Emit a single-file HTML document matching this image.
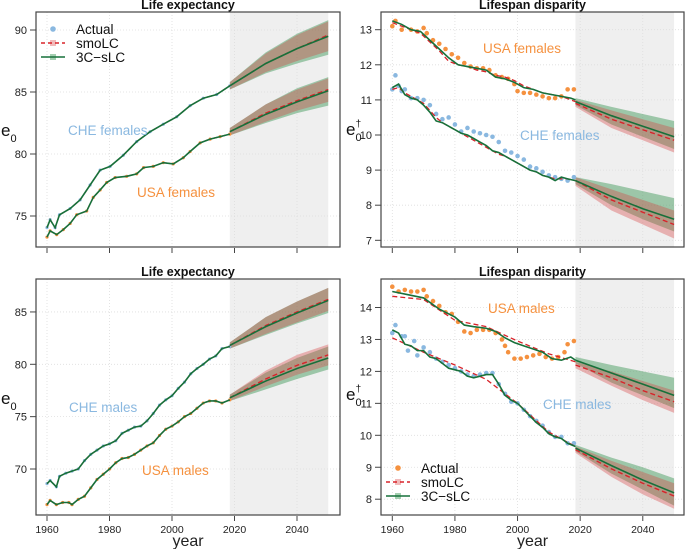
<!DOCTYPE html>
<html><head><meta charset="utf-8"><style>
body{margin:0;background:#fff;}
svg{display:block;font-family:"Liberation Sans",Arial,sans-serif;}
</style></head><body>
<svg id="chart" width="685" height="549" viewBox="0 0 685 549" xmlns="http://www.w3.org/2000/svg"></svg>
<script>
// ---------- DATA ----------
const fYears = [2018.5, 2030, 2040, 2050];

// Top-left: life expectancy females
const tlCheYears = [1960,1961,1962.6,1964,1967.4,1970.6,1973.8,1977,1980.2,1984.4,1988.7,1993,1997.2,2001.5,2005.8,2010,2014.3,2018.5];
const tlCheVals  = [74.06,74.7,74.06,75.1,75.6,76.3,77.5,78.7,79.0,79.9,81.0,81.8,82.4,83.0,83.9,84.5,84.8,85.5];
const tlUsaYears = [1960,1961,1963.1,1965.2,1967.4,1969.5,1972.7,1974.8,1977,1979.1,1981.8,1985.5,1988.7,1990.9,1994,1997.2,2000.4,2003.6,2005.8,2009,2012.2,2015.4,2018.5];
const tlUsaVals  = [73.3,73.8,73.5,73.9,74.4,75.1,75.4,76.5,77.1,77.7,78.1,78.2,78.4,78.9,79.0,79.3,79.2,79.7,80.2,80.9,81.2,81.4,81.6];
const tlCheG = [85.5,87.3,88.5,89.5], tlCheGhi=[85.8,88.2,89.7,90.8], tlCheGlo=[85.2,86.5,87.3,88.0];
const tlCheR = [85.5,87.3,88.5,89.6], tlCheRhi=[85.8,88.1,89.6,90.7], tlCheRlo=[85.2,86.6,87.5,88.3];
const tlUsaG = [81.8,83.2,84.2,85.1], tlUsaGhi=[82.1,84.0,85.3,86.2], tlUsaGlo=[81.5,82.5,83.3,83.9];
const tlUsaR = [81.8,83.3,84.3,85.2], tlUsaRhi=[82.1,84.0,85.2,86.1], tlUsaRlo=[81.5,82.6,83.5,84.2];

// Top-right: lifespan disparity females
const trUsaActYears = [1960,1961,1963,1966,1968,1970,1971,1973,1975,1977,1979,1981,1983,1985,1987,1989,1991,1993,1995,1997,1999,2000,2002,2004,2006,2008,2010,2012,2014,2016,2018];
const trUsaActVals  = [13.1,13.25,13.0,13.0,12.95,13.05,12.9,12.7,12.6,12.45,12.3,12.2,12.05,11.95,11.9,11.9,11.85,11.7,11.65,11.6,11.45,11.25,11.2,11.2,11.15,11.1,11.05,11.05,11.1,11.3,11.3];
const trUsaLineYears = [1960,1963,1966,1969,1972,1975,1978,1981,1984,1987,1990,1993,1996,1999,2002,2005,2008,2011,2014,2017,2018.5];
const trUsaLineVals  = [13.25,13.15,13.0,12.95,12.7,12.45,12.2,12.0,11.95,11.9,11.85,11.65,11.6,11.5,11.35,11.3,11.2,11.15,11.1,11.05,11.0];
const trUsaSmoVals   = [13.2,13.1,13.0,12.9,12.65,12.4,12.1,12.0,11.95,11.85,11.8,11.7,11.65,11.55,11.4,11.3,11.2,11.15,11.1,11.0,10.95];
const trCheActYears = [1960,1961,1962,1963,1964,1966,1968,1970,1972,1974,1976,1978,1980,1982,1984,1986,1988,1990,1992,1994,1996,1998,2000,2002,2004,2006,2008,2010,2012,2014,2016,2018];
const trCheActVals  = [11.3,11.7,11.4,11.25,11.3,11.05,11.05,11.0,10.85,10.6,10.45,10.5,10.3,10.1,10.2,10.1,10.05,10.0,9.95,9.8,9.55,9.5,9.4,9.3,9.1,9.05,8.95,8.85,8.8,8.75,8.7,8.8];
const trCheLineYears = [1960,1962,1964,1966,1968,1970,1972,1974,1976,1978,1980,1982,1984,1986,1988,1990,1992,1994,1996,1998,2000,2002,2004,2006,2008,2010,2012,2014,2016,2018.5];
const trCheLineVals  = [11.35,11.45,11.15,11.05,11.0,10.85,10.65,10.4,10.35,10.25,10.15,10.05,10.0,9.9,9.8,9.7,9.55,9.5,9.4,9.3,9.2,9.1,9.0,8.95,8.85,8.8,8.7,8.8,8.75,8.7];
const trCheSmoVals   = [11.3,11.35,11.2,11.1,11.0,10.9,10.7,10.5,10.35,10.25,10.15,10.05,9.95,9.85,9.75,9.65,9.55,9.45,9.4,9.3,9.2,9.1,9.0,8.95,8.85,8.8,8.75,8.75,8.75,8.7];
const trUsaG=[10.95,10.55,10.25,9.95], trUsaGhi=[11.05,10.8,10.6,10.4], trUsaGlo=[10.85,10.3,9.95,9.6];
const trUsaR=[10.9,10.45,10.15,9.85],  trUsaRhi=[11.0,10.7,10.45,10.2],  trUsaRlo=[10.8,10.2,9.85,9.5];
const trCheG=[8.7,8.25,7.9,7.6], trCheGhi=[8.8,8.6,8.4,8.2], trCheGlo=[8.6,8.0,7.6,7.25];
const trCheR=[8.7,8.15,7.8,7.45], trCheRhi=[8.8,8.45,8.15,7.85], trCheRlo=[8.55,7.85,7.45,7.05];

// Bottom-left: life expectancy males
const blCheYears = [1960,1961,1963,1964,1966,1968,1970,1972,1974,1976,1978,1980,1982,1984,1986,1988,1990,1992,1994,1996,1998,2000,2002,2004,2006,2008,2010,2012,2014,2016,2018.5];
const blCheVals  = [68.6,68.9,68.3,69.3,69.6,69.8,70.0,70.8,71.4,71.8,72.2,72.4,72.7,73.4,73.7,74.0,74.1,74.6,75.3,76.1,76.6,77.0,77.7,78.3,79.1,79.6,80.0,80.5,80.8,81.5,81.7];
const blUsaYears = [1960,1961,1963,1965,1967,1968,1970,1972,1974,1976,1978,1980,1982,1984,1986,1988,1990,1992,1994,1996,1998,2000,2002,2004,2006,2008,2010,2012,2014,2016,2018.5];
const blUsaVals  = [66.6,67.0,66.6,66.8,66.8,66.6,67.1,67.4,68.2,69.0,69.5,70.0,70.6,71.0,71.1,71.4,71.8,72.2,72.5,73.2,73.8,74.1,74.5,75.0,75.3,75.8,76.3,76.5,76.5,76.3,76.6];
const blCheG=[81.8,83.6,84.9,86.1], blCheGhi=[82.1,84.5,86.0,87.3], blCheGlo=[81.5,82.8,83.9,84.9];
const blCheR=[81.8,83.7,85.0,86.2], blCheRhi=[82.1,84.5,86.0,87.3], blCheRlo=[81.5,82.9,84.0,85.1];
const blUsaG=[76.8,78.4,79.6,80.6], blUsaGhi=[77.1,79.2,80.6,81.7], blUsaGlo=[76.5,77.6,78.6,79.5];
const blUsaR=[76.8,78.6,79.9,80.9], blUsaRhi=[77.1,79.4,80.9,81.9], blUsaRlo=[76.5,77.9,79.0,79.9];

// Bottom-right: lifespan disparity males
const brUsaActYears = [1960,1962,1964,1966,1968,1970,1971,1973,1975,1977,1979,1981,1983,1985,1987,1989,1991,1993,1995,1996,1997,1999,2001,2003,2005,2007,2009,2011,2013,2015,2016,2018];
const brUsaActVals  = [14.65,14.5,14.55,14.5,14.5,14.55,14.35,14.2,14.05,13.85,13.8,13.55,13.25,13.2,13.3,13.3,13.3,13.2,13.0,12.8,12.6,12.4,12.4,12.45,12.5,12.55,12.45,12.4,12.45,12.6,12.85,12.95];
const brUsaLineYears = [1960,1965,1970,1975,1980,1983,1986,1990,1993,1996,1999,2002,2005,2008,2011,2014,2017,2018.5];
const brUsaLineVals  = [14.5,14.4,14.3,13.95,13.7,13.45,13.4,13.35,13.25,13.05,12.9,12.8,12.7,12.6,12.4,12.35,12.45,12.35];
const brUsaSmoYears = [1960,1970,1980,1990,2000,2010,2018.5];
const brUsaSmoVals  = [14.35,14.25,13.6,13.4,12.95,12.55,12.3];
const brCheActYears = [1960,1961,1963,1964,1965,1967,1968,1970,1972,1974,1976,1978,1980,1982,1984,1986,1988,1990,1992,1994,1996,1998,2000,2002,2004,2006,2008,2010,2012,2014,2016,2018];
const brCheActVals  = [13.2,13.45,13.1,13.1,12.65,12.95,12.5,12.75,12.6,12.4,12.3,12.2,12.1,12.0,11.9,11.85,11.9,11.95,11.95,11.6,11.3,11.05,11.0,10.8,10.6,10.45,10.3,10.1,9.95,9.95,9.75,9.75];
const brCheLineYears = [1960,1962,1964,1966,1968,1970,1972,1974,1976,1978,1980,1982,1984,1986,1988,1990,1992,1994,1996,1998,2000,2002,2004,2006,2008,2010,2012,2014,2016,2018.5];
const brCheLineVals  = [13.3,13.2,12.85,12.8,12.65,12.65,12.45,12.4,12.25,12.1,12.05,12.0,11.85,11.8,11.85,11.9,11.9,11.6,11.25,11.1,11.0,10.8,10.6,10.4,10.25,10.05,9.95,9.9,9.75,9.65];
const brCheSmoYears = [1960,1970,1980,1990,2000,2010,2018.5];
const brCheSmoVals  = [13.05,12.6,12.2,11.75,11.0,10.1,9.65];
const brUsaG=[12.35,11.95,11.6,11.25], brUsaGhi=[12.45,12.2,12.0,11.8], brUsaGlo=[12.25,11.65,11.25,10.85];
const brUsaR=[12.2,11.8,11.4,11.05], brUsaRhi=[12.3,12.0,11.7,11.4], brUsaRlo=[12.1,11.55,11.1,10.7];
const brCheG=[9.6,9.05,8.6,8.2], brCheGhi=[9.7,9.3,9.0,8.65], brCheGlo=[9.5,8.8,8.3,7.8];
const brCheR=[9.55,8.95,8.5,8.1], brCheRhi=[9.65,9.2,8.85,8.5], brCheRlo=[9.45,8.7,8.15,7.7];

const xTickLabels = [1960,1980,2000,2020,2040];
const leTicksTop = [75,80,85,90];
const ldTicksTop = [7,8,9,10,11,12,13];
const leTicksBot = [70,75,80,85];
const ldTicksBot = [8,9,10,11,12,13,14];

// ---------- DRAW ----------
const NS="http://www.w3.org/2000/svg";
const svg=document.getElementById('chart');
function mk(tag,attrs,parent){const e=document.createElementNS(NS,tag);for(const k in attrs)e.setAttribute(k,attrs[k]);(parent||svg).appendChild(e);return e;}
const ORANGE="#f5913f", BLUE="#8ab8e0", GREEN="#17703a", RED="#d8232a";

function panel(p){
  const g=mk('g',{});
  
  
  const X=y=>p.x1960+(y-1960)*p.pxYr;
  const Y=v=>p.yRef-(v-p.vRef)*p.pxU;
  // shade
  const sh=mk('rect',{x:X(2018.5),y:p.y0,width:X(2050)-X(2018.5),height:p.y1-p.y0,fill:'#efefef'},g);
  
  
  // grid
  xTickLabels.forEach(t=>{mk('line',{x1:X(t),x2:X(t),y1:p.y0,y2:p.y1,stroke:'#ddd','stroke-dasharray':'1,2','stroke-width':0.8},g);});
  p.yticks.forEach(t=>{mk('line',{x1:p.x0,x2:p.x1,y1:Y(t),y2:Y(t),stroke:'#ddd','stroke-dasharray':'1,2','stroke-width':0.8},g);});
  // bands
  p.fc.forEach(f=>{
    const band=(hi,lo,col)=>{let d='M';fYears.forEach((y,i)=>{d+=(i?' L':'')+X(y)+','+Y(hi[i]);});for(let i=fYears.length-1;i>=0;i--)d+=' L'+X(fYears[i])+','+Y(lo[i]);d+=' Z';return mk('path',{d:d,fill:col},g);};
    const bg=band(f.ghi,f.glo,'rgba(40,140,70,0.42)');
    
    
    const br=band(f.rhi,f.rlo,'rgba(215,60,60,0.35)');
    
    
  });
  // history
  p.series.forEach(s=>{
    s.ay.forEach((y,i)=>{const c=mk('circle',{cx:X(y),cy:Y(s.av[i]),r:p.dotR,fill:s.col},g);
      
      });
    const pts=(ys,vs)=>ys.map((y,i)=>X(y)+','+Y(vs[i])).join(' ');
    const r=mk('polyline',{points:pts(s.sy,s.sv),fill:'none',stroke:RED,'stroke-width':1.3,'stroke-dasharray':'5,3'},g);
    
    
    const l=mk('polyline',{points:pts(s.ly,s.lv),fill:'none',stroke:GREEN,'stroke-width':1.6},g);
    
    
  });
  p.fc.forEach(f=>{
    const pts=vs=>fYears.map((y,i)=>X(y)+','+Y(vs[i])).join(' ');
    const r=mk('polyline',{points:pts(f.r),fill:'none',stroke:RED,'stroke-width':1.4,'stroke-dasharray':'5,3'},g);
    
    
    const l=mk('polyline',{points:pts(f.g),fill:'none',stroke:GREEN,'stroke-width':1.6},g);
    
    
  });
  // box
  const bx=mk('rect',{x:p.x0,y:p.y0,width:p.x1-p.x0,height:p.y1-p.y0,fill:'none',stroke:'#444','stroke-width':1.2},g);
  
  
  // y ticks
  p.yticks.forEach(t=>{
    mk('line',{x1:p.x0-6,x2:p.x0,y1:Y(t),y2:Y(t),stroke:'#444'},g);
    const tx=mk('text',{x:p.x0-9,y:Y(t)+4,'text-anchor':'end','font-size':11,fill:'#222'},g);tx.textContent=t;
    
    
  });
  // x ticks
  xTickLabels.forEach(t=>{
    mk('line',{x1:X(t),x2:X(t),y1:p.y1+1,y2:p.y1+6,stroke:'#444'},g);
    if(p.bottom){const tx=mk('text',{x:X(t),y:p.y1+18,'text-anchor':'middle','font-size':10.5,fill:'#222'},g);tx.textContent=t;
      
      }
  });
  if(p.bottom){const t=mk('text',{x:(p.x0+p.x1)/2,y:546,'text-anchor':'middle','font-size':16,fill:'#222'},g);t.textContent='year';
    
    }
  const tt=mk('text',{x:(p.x0+p.x1)/2,y:p.y0-3,'text-anchor':'middle','font-size':12.5,'font-weight':'bold',fill:'#111'},g);tt.textContent=p.title;
  
  
  // y label
  const yl=mk('text',{x:p.x0-35,y:p.ylY,'font-size':17,fill:'#111'},g);
  
  
  yl.innerHTML=p.dagger?'e<tspan font-size="11" dy="6">0</tspan><tspan font-size="10" dx="-6" dy="-14">†</tspan>':'e<tspan font-size="11" dy="6">0</tspan>';
  p.labels.forEach(L=>{const t=mk('text',{x:L[0],y:L[1],'font-size':13.5,fill:L[3]},g);t.textContent=L[2];
    
    });
}

panel({name:'panel-le-females',title:'Life expectancy',x0:36,x1:340,y0:12,y1:247,x1960:47,pxYr:3.125,vRef:80,yRef:154,pxU:12.4,yticks:leTicksTop,ylY:136,dotR:1.6,
  series:[{col:BLUE,ay:tlCheYears,av:tlCheVals,ly:tlCheYears,lv:tlCheVals,sy:tlCheYears,sv:tlCheVals},
          {col:ORANGE,ay:tlUsaYears,av:tlUsaVals,ly:tlUsaYears,lv:tlUsaVals,sy:tlUsaYears,sv:tlUsaVals}],
  fc:[{g:tlCheG,ghi:tlCheGhi,glo:tlCheGlo,r:tlCheR,rhi:tlCheRhi,rlo:tlCheRlo},{g:tlUsaG,ghi:tlUsaGhi,glo:tlUsaGlo,r:tlUsaR,rhi:tlUsaRhi,rlo:tlUsaRlo}],
  labels:[[68,135,'CHE females',BLUE],[137,197,'USA females',ORANGE]]});
panel({name:'panel-ld-females',title:'Lifespan disparity',x0:381,x1:684,y0:12,y1:247,x1960:392.3,pxYr:3.131,vRef:10,yRef:135,pxU:35.1,yticks:ldTicksTop,ylY:135,dagger:true,dotR:2.3,
  series:[{col:ORANGE,ay:trUsaActYears,av:trUsaActVals,ly:trUsaLineYears,lv:trUsaLineVals,sy:trUsaLineYears,sv:trUsaSmoVals},
          {col:BLUE,ay:trCheActYears,av:trCheActVals,ly:trCheLineYears,lv:trCheLineVals,sy:trCheLineYears,sv:trCheSmoVals}],
  fc:[{g:trUsaG,ghi:trUsaGhi,glo:trUsaGlo,r:trUsaR,rhi:trUsaRhi,rlo:trUsaRlo},{g:trCheG,ghi:trCheGhi,glo:trCheGlo,r:trCheR,rhi:trCheRhi,rlo:trCheRlo}],
  labels:[[483,53,'USA females',ORANGE],[520,140,'CHE females',BLUE]]});
panel({name:'panel-le-males',title:'Life expectancy',x0:36,x1:340,y0:279,y1:515,x1960:47,pxYr:3.125,vRef:80,yRef:364.3,pxU:10.47,yticks:leTicksBot,ylY:404,bottom:true,dotR:1.6,
  series:[{col:BLUE,ay:blCheYears,av:blCheVals,ly:blCheYears,lv:blCheVals,sy:blCheYears,sv:blCheVals},
          {col:ORANGE,ay:blUsaYears,av:blUsaVals,ly:blUsaYears,lv:blUsaVals,sy:blUsaYears,sv:blUsaVals}],
  fc:[{g:blCheG,ghi:blCheGhi,glo:blCheGlo,r:blCheR,rhi:blCheRhi,rlo:blCheRlo},{g:blUsaG,ghi:blUsaGhi,glo:blUsaGlo,r:blUsaR,rhi:blUsaRhi,rlo:blUsaRlo}],
  labels:[[69,412,'CHE males',BLUE],[142,475,'USA males',ORANGE]]});
panel({name:'panel-ld-males',title:'Lifespan disparity',x0:381,x1:684,y0:279,y1:515,x1960:392.3,pxYr:3.131,vRef:10,yRef:435.3,pxU:31.95,yticks:ldTicksBot,ylY:400,dagger:true,bottom:true,dotR:2.3,
  series:[{col:ORANGE,ay:brUsaActYears,av:brUsaActVals,ly:brUsaLineYears,lv:brUsaLineVals,sy:brUsaSmoYears,sv:brUsaSmoVals},
          {col:BLUE,ay:brCheActYears,av:brCheActVals,ly:brCheLineYears,lv:brCheLineVals,sy:brCheSmoYears,sv:brCheSmoVals}],
  fc:[{g:brUsaG,ghi:brUsaGhi,glo:brUsaGlo,r:brUsaR,rhi:brUsaRhi,rlo:brUsaRlo},{g:brCheG,ghi:brCheGhi,glo:brCheGlo,r:brCheR,rhi:brCheRhi,rlo:brCheRlo}],
  labels:[[488,313,'USA males',ORANGE],[543,409,'CHE males',BLUE]]});

// legends
function legend(name,x,y,dotCol){
  const g=mk('g',{});
  
  
  const c=mk('circle',{cx:x+12,cy:y,r:2.8,fill:dotCol},g);
  mk('rect',{x:x+9,y:y+11,width:6,height:6,fill:'rgba(215,60,60,0.35)'},g);
  mk('line',{x1:x,x2:x+24,y1:y+14,y2:y+14,stroke:RED,'stroke-width':1.4,'stroke-dasharray':'4,3'},g);
  mk('rect',{x:x+9,y:y+25,width:6,height:6,fill:'rgba(40,140,70,0.42)'},g);
  mk('line',{x1:x,x2:x+24,y1:y+28,y2:y+28,stroke:GREEN,'stroke-width':1.6},g);
  ['Actual','smoLC','3C\u2212sLC'].forEach((t,i)=>{const tx=mk('text',{x:x+35,y:y+5+i*14,'font-size':13.5,fill:'#111'},g);tx.textContent=t;
    
    });
}
legend('legend-top',41,29,BLUE);
legend('legend-bottom',386,468,ORANGE);
</script>
</body></html>
